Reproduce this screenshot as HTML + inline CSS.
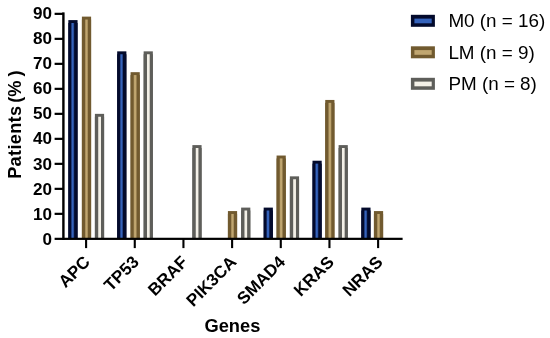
<!DOCTYPE html>
<html><head><meta charset="utf-8"><title>Genes</title>
<style>
html,body{margin:0;padding:0;background:#fff;}
svg{display:block;font-family:"Liberation Sans",Arial,sans-serif;}
.b{font-weight:bold;}
</style></head><body>
<svg width="550" height="338" viewBox="0 0 550 338">
<rect width="550" height="338" fill="#fff"/>

<defs>
<linearGradient id="gb" x1="0" y1="0" x2="1" y2="0"><stop offset="0.250" stop-color="#030a2c"/><stop offset="0.413" stop-color="#3563bc"/><stop offset="0.522" stop-color="#3563bc"/><stop offset="0.685" stop-color="#030a2c"/></linearGradient>
<linearGradient id="gl" x1="0" y1="0" x2="1" y2="0"><stop offset="0.283" stop-color="#715a2f"/><stop offset="0.435" stop-color="#c0a670"/><stop offset="0.565" stop-color="#c0a670"/><stop offset="0.717" stop-color="#715a2f"/></linearGradient>
<linearGradient id="gp" x1="0" y1="0" x2="1" y2="0"><stop offset="0.315" stop-color="#5e5e5a"/><stop offset="0.413" stop-color="#f3f0e7"/><stop offset="0.609" stop-color="#f3f0e7"/><stop offset="0.707" stop-color="#5e5e5a"/></linearGradient>
</defs>
<rect x="68.35" y="20.10" width="9.2" height="218.75" fill="#030a2c"/>
<rect x="68.35" y="23.00" width="9.2" height="215.85" fill="url(#gb)"/>
<rect x="117.18" y="51.35" width="9.2" height="187.50" fill="#030a2c"/>
<rect x="117.18" y="54.25" width="9.2" height="184.60" fill="url(#gb)"/>
<rect x="263.67" y="207.60" width="9.2" height="31.25" fill="#030a2c"/>
<rect x="263.67" y="210.50" width="9.2" height="28.35" fill="url(#gb)"/>
<rect x="312.50" y="160.72" width="9.2" height="78.12" fill="#030a2c"/>
<rect x="312.50" y="163.62" width="9.2" height="75.22" fill="url(#gb)"/>
<rect x="361.33" y="207.60" width="9.2" height="31.25" fill="#030a2c"/>
<rect x="361.33" y="210.50" width="9.2" height="28.35" fill="url(#gb)"/>
<rect x="81.90" y="16.62" width="9.2" height="222.22" fill="#715a2f"/>
<rect x="81.90" y="19.52" width="9.2" height="219.32" fill="url(#gl)"/>
<rect x="130.57" y="72.17" width="9.2" height="166.68" fill="#715a2f"/>
<rect x="130.57" y="75.07" width="9.2" height="163.78" fill="url(#gl)"/>
<rect x="227.91" y="211.07" width="9.2" height="27.78" fill="#715a2f"/>
<rect x="227.91" y="213.97" width="9.2" height="24.88" fill="url(#gl)"/>
<rect x="276.58" y="155.53" width="9.2" height="83.32" fill="#715a2f"/>
<rect x="276.58" y="158.43" width="9.2" height="80.42" fill="url(#gl)"/>
<rect x="325.25" y="99.95" width="9.2" height="138.90" fill="#715a2f"/>
<rect x="325.25" y="102.85" width="9.2" height="136.00" fill="url(#gl)"/>
<rect x="373.92" y="211.07" width="9.2" height="27.78" fill="#715a2f"/>
<rect x="373.92" y="213.97" width="9.2" height="24.88" fill="url(#gl)"/>
<rect x="94.90" y="113.85" width="9.2" height="125.00" fill="#5e5e5a"/>
<rect x="94.90" y="116.75" width="9.2" height="122.10" fill="url(#gp)"/>
<rect x="143.64" y="51.35" width="9.2" height="187.50" fill="#5e5e5a"/>
<rect x="143.64" y="54.25" width="9.2" height="184.60" fill="url(#gp)"/>
<rect x="192.38" y="145.10" width="9.2" height="93.75" fill="#5e5e5a"/>
<rect x="192.38" y="148.00" width="9.2" height="90.85" fill="url(#gp)"/>
<rect x="241.12" y="207.60" width="9.2" height="31.25" fill="#5e5e5a"/>
<rect x="241.12" y="210.50" width="9.2" height="28.35" fill="url(#gp)"/>
<rect x="289.86" y="176.35" width="9.2" height="62.50" fill="#5e5e5a"/>
<rect x="289.86" y="179.25" width="9.2" height="59.60" fill="url(#gp)"/>
<rect x="338.60" y="145.10" width="9.2" height="93.75" fill="#5e5e5a"/>
<rect x="338.60" y="148.00" width="9.2" height="90.85" fill="url(#gp)"/>
<g fill="#000">
<rect x="54.6" y="237.75" width="348.00" height="2.2"/>
<rect x="62.2" y="12.4" width="2.4" height="227.55"/>
<rect x="54.6" y="212.75" width="9" height="2.2"/>
<rect x="54.6" y="187.75" width="9" height="2.2"/>
<rect x="54.6" y="162.75" width="9" height="2.2"/>
<rect x="54.6" y="137.75" width="9" height="2.2"/>
<rect x="54.6" y="112.75" width="9" height="2.2"/>
<rect x="54.6" y="87.75" width="9" height="2.2"/>
<rect x="54.6" y="62.75" width="9" height="2.2"/>
<rect x="54.6" y="37.75" width="9" height="2.2"/>
<rect x="54.6" y="12.75" width="9" height="2.2"/>
<rect x="85.05" y="238.85" width="2.1" height="9.25"/>
<rect x="133.72" y="238.85" width="2.1" height="9.25"/>
<rect x="182.39" y="238.85" width="2.1" height="9.25"/>
<rect x="231.06" y="238.85" width="2.1" height="9.25"/>
<rect x="279.73" y="238.85" width="2.1" height="9.25"/>
<rect x="328.40" y="238.85" width="2.1" height="9.25"/>
<rect x="377.07" y="238.85" width="2.1" height="9.25"/>
</g>
<g class="b" font-size="17.1" text-anchor="end" fill="#000">
<text x="52.1" y="244.85">0</text>
<text x="52.1" y="219.75">10</text>
<text x="52.1" y="194.66">20</text>
<text x="52.1" y="169.56">30</text>
<text x="52.1" y="144.47">40</text>
<text x="52.1" y="119.38">50</text>
<text x="52.1" y="94.28">60</text>
<text x="52.1" y="69.18">70</text>
<text x="52.1" y="44.09">80</text>
<text x="52.1" y="18.99">90</text>
</g>
<g class="b" font-size="17.1" text-anchor="end" fill="#000">
<text x="91.10" y="263.1" transform="rotate(-45 91.10 263.1)">APC</text>
<text x="139.89" y="263.1" transform="rotate(-45 139.89 263.1)">TP53</text>
<text x="188.68" y="263.1" transform="rotate(-45 188.68 263.1)">BRAF</text>
<text x="237.47" y="263.1" transform="rotate(-45 237.47 263.1)">PIK3CA</text>
<text x="286.26" y="263.1" transform="rotate(-45 286.26 263.1)">SMAD4</text>
<text x="335.05" y="263.1" transform="rotate(-45 335.05 263.1)">KRAS</text>
<text x="383.84" y="263.1" transform="rotate(-45 383.84 263.1)">NRAS</text>
</g>
<text class="b" font-size="18.3" text-anchor="middle" x="232.4" y="331.9">Genes</text>
<text class="b" font-size="18.2" text-anchor="start" x="21.2" y="178.8" transform="rotate(-90 21.2 178.8)"><tspan letter-spacing="0.3">Patients</tspan><tspan dx="-2.2"> (%</tspan><tspan dx="4">)</tspan></text>
<rect x="410.9" y="14.8" width="24" height="12" fill="#030a2c"/>
<rect x="414.4" y="18.6" width="17.3" height="4.7" fill="#3563bc"/>
<text font-size="18.85" x="448.4" y="27.1">M0 (n = 16)</text>
<rect x="410.9" y="46.3" width="24" height="12" fill="#715a2f"/>
<rect x="414.4" y="50.099999999999994" width="17.3" height="4.7" fill="#c0a670"/>
<text font-size="18.85" x="448.4" y="59.0">LM (n = 9)</text>
<rect x="410.9" y="77.8" width="24" height="12" fill="#5e5e5a"/>
<rect x="414.4" y="81.6" width="17.3" height="4.7" fill="#f3f0e7"/>
<text font-size="18.85" x="448.4" y="89.6">PM (n = 8)</text>
</svg></body></html>
